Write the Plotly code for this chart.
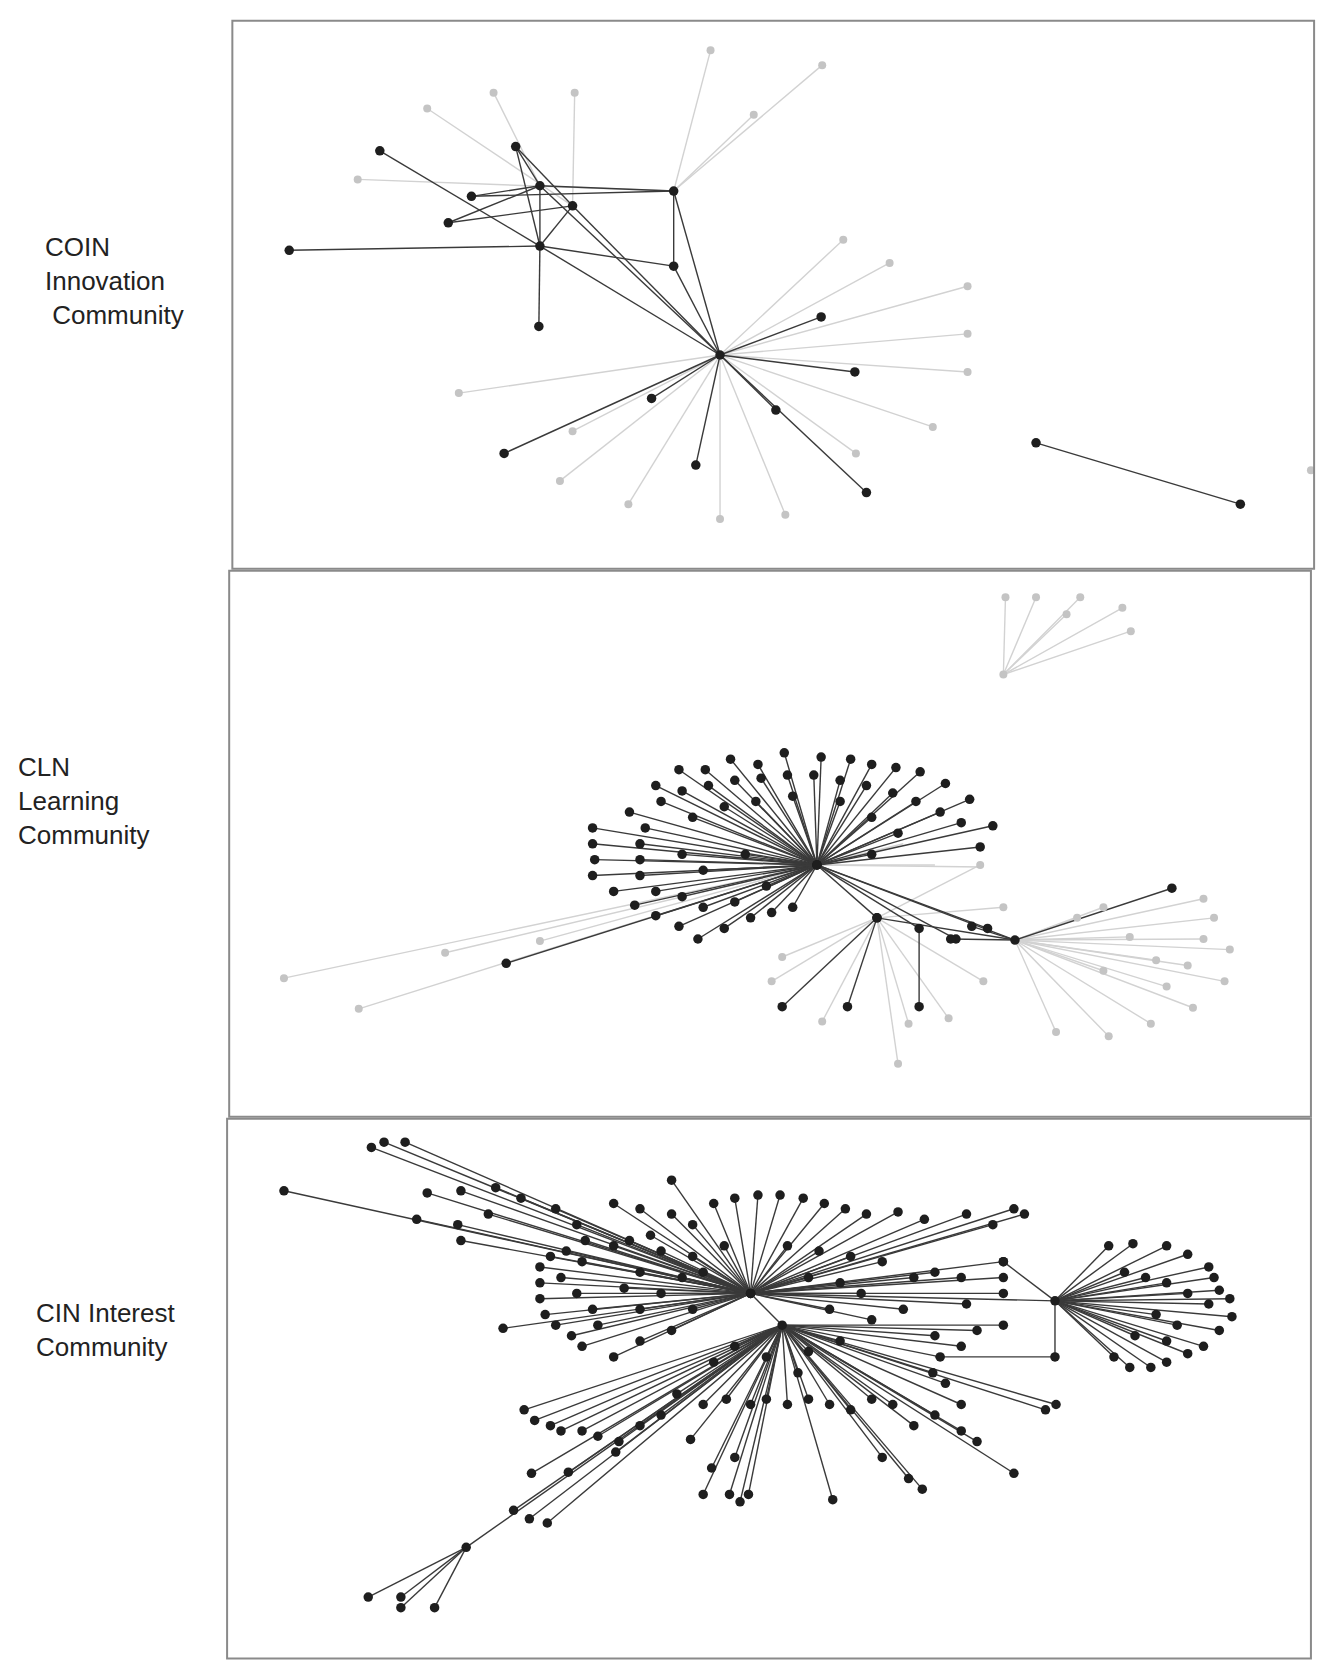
import plotly.graph_objects as go

# ---------- Panel 1: COIN ----------
p1_dark_edges = [((353,135),(505,225)),((482,131),(505,168)),((482,131),(505,225)),((482,131),(536,187)),
    ((440,178),(505,168)),((440,178),(632,173)),((418,203),(505,168)),((418,203),(536,187)),
    ((505,168),(632,173)),((505,168),(505,225)),((536,187),(505,225)),((536,187),(676,328)),
    ((505,225),(267,229)),((505,225),(504,301)),((505,225),(632,244)),((505,225),(676,328)),
    ((632,173),(632,244)),((632,173),(676,328)),((632,244),(676,328)),((505,168),(676,328)),
    ((976,411),(1170,469))]
p1_hub = (676,328)
p1_hub_dark = [(772,292),(804,344),(611,369),(729,380),(471,421),(653,432),(815,458)]
p1_hub_light = [(793,219),(837,241),(911,263),(911,308),(911,344),(878,396),(805,421),(738,479),
    (676,483),(589,469),(524,447),(536,400),(428,364)]
p1_light_edges = [((632,173),(667,40)),((632,173),(773,54)),((632,173),(708,101)),
    ((398,95),(536,187)),((461,80),(505,168)),((538,80),(536,187)),((332,162),(632,173))]
p1_dark_nodes = [(353,135),(482,131),(505,168),(440,178),(536,187),(418,203),(632,173),(505,225),
    (267,229),(632,244),(504,301),(676,328),(976,411),(1170,469)]
p1_light_nodes = [(667,40),(773,54),(708,101),(398,95),(461,80),(538,80),(332,162),(1237,437)]

# ---------- Panel 2: CLN ----------
p2_hub1 = (768,810); p2_hub2 = (956,881); p2_hub3 = (825,860)
p2_hub1_dark = [(637,720),(662,720),(686,710),(712,715),(737,704),(772,708),(800,710),(820,715),(843,718),
    (866,722),(890,733),(913,748),(935,773),(923,793),(615,735),(640,740),(665,735),(690,730),(715,728),
    (740,725),(765,725),(790,730),(815,735),(840,742),(862,750),(885,760),(905,770),(555,775),(555,790),
    (557,805),(555,820),(575,835),(595,848),(615,858),(637,868),(655,880),(680,870),(705,860),(725,855),
    (745,850),(590,760),(605,775),(600,790),(600,805),(600,820),(615,835),(640,840),(660,850),(690,845),
    (620,750),(650,765),(680,755),(710,750),(745,745),(790,750),(820,765),(845,780),(820,800),(640,800),
    (660,815),(700,800),(720,830),(473,903),(865,870),(900,880),(930,870)]
p2_hub1_light = [(262,917),(333,946),(415,893),(505,882),(850,790),(880,810),(925,812)]
p2_hub2_dark = [(1105,832),(768,810),(825,860),(895,880),(915,868)]
p2_hub2_light = [(1135,842),(1145,860),(1160,890),(1155,920),(1125,945),(1085,960),(1045,972),(995,968),
    (1065,878),(1090,900),(1100,925),(1040,910),(1015,860),(1040,850),(1135,880),(1120,905)]
p2_hub3_dark = [(735,944),(797,944),(768,810)]
p2_hub3_light = [(735,897),(725,920),(773,958),(845,998),(855,960),(893,955),(926,920),(945,850),(923,810)]
p2_side = [((865,870),(865,944))]
p2_hub4 = (945,630)
p2_hub4_light = [(947,557),(976,557),(1018,557),(1058,567),(1066,589),(1005,573)]

# ---------- Panel 3: CIN ----------
p3_hub1 = (705,1215); p3_hub2 = (735,1245); p3_hub3 = (994,1222); p3_hub4 = (435,1455)
p3_hub1_dark = [(262,1118),(345,1077),(357,1072),(377,1072),(398,1120),(388,1145),(430,1118),(463,1115),
    (487,1125),(430,1165),(427,1150),(456,1140),(520,1135),(540,1150),(548,1165),(575,1170),(590,1165),
    (610,1160),(630,1108),(575,1130),(600,1135),(630,1140),(650,1150),(670,1130),(690,1125),(712,1122),
    (733,1122),(755,1125),(775,1130),(795,1135),(815,1140),(845,1138),(870,1145),(910,1140),(935,1150),
    (955,1135),(965,1140),(505,1190),(505,1205),(505,1220),(510,1235),(520,1245),(535,1255),(545,1265),
    (515,1180),(530,1175),(545,1185),(525,1200),(540,1215),(555,1230),(560,1245),(470,1248),
    (945,1185),(945,1200),(945,1215),(910,1225),(905,1200),(880,1195),(860,1200),(620,1175),(650,1180),
    (680,1170),(740,1170),(770,1175),(800,1180),(830,1185),(600,1195),(585,1210),(600,1230),(630,1250),
    (850,1230),(820,1240),(600,1260),(575,1275),(640,1200),(660,1195),(760,1200),(790,1205),(650,1230),
    (780,1230),(620,1215),(810,1215)]
p3_hub2_dark = [(490,1325),(500,1335),(515,1340),(525,1345),(545,1345),(560,1350),(580,1355),(600,1340),
    (620,1330),(648,1353),(668,1380),(690,1370),(705,1320),(720,1315),(740,1320),(760,1315),(780,1320),
    (800,1325),(820,1315),(840,1320),(860,1340),(880,1330),(905,1345),(920,1355),(955,1385),(830,1370),
    (855,1390),(868,1400),(783,1410),(660,1405),(685,1405),(695,1412),(703,1405),(635,1310),(660,1320),
    (682,1315),(905,1320),(890,1300),(878,1290),(945,1245),(920,1250),(905,1265),(885,1275),(880,1255),
    (985,1325),(995,1320),(577,1365),(532,1384),(497,1385),(480,1420),(495,1428),(512,1432),(435,1455),
    (705,1215),(690,1265),(720,1275),(760,1270),(790,1260),(670,1280),(750,1290)]
p3_hub3_dark = [(1045,1170),(1068,1168),(1100,1170),(1120,1178),(1140,1190),(1145,1200),(1150,1212),
    (1160,1220),(1162,1237),(1150,1250),(1135,1265),(1120,1272),(1100,1280),(1085,1285),(1065,1285),
    (1050,1275),(1060,1195),(1080,1200),(1100,1205),(1120,1215),(1140,1225),(1090,1235),(1110,1245),
    (1070,1255),(1100,1260),(705,1215),(945,1185),(994,1275)]
p3_hub4_dark = [(342,1502),(373,1502),(373,1512),(405,1512)]
p3_extra = [((880,1275),(994,1275))]

DARK = "#1e1e1e"; LIGHT = "#c4c4c4"; EDGE_D = "#3a3a3a"; EDGE_L = "#d2d2d2"

light_edges, dark_edges = [], []
def star(hub, leaves, lst):
    for l in leaves: lst.append((hub, l))

light_edges += p1_light_edges
star(p1_hub, p1_hub_light, light_edges)
star(p2_hub1, p2_hub1_light, light_edges)
star(p2_hub2, p2_hub2_light, light_edges)
star(p2_hub3, p2_hub3_light, light_edges)
star(p2_hub4, p2_hub4_light, light_edges)
dark_edges += p1_dark_edges
star(p1_hub, p1_hub_dark, dark_edges)
star(p2_hub1, p2_hub1_dark, dark_edges)
star(p2_hub2, p2_hub2_dark, dark_edges)
star(p2_hub3, p2_hub3_dark, dark_edges)
dark_edges += p2_side
star(p3_hub1, p3_hub1_dark, dark_edges)
star(p3_hub2, p3_hub2_dark, dark_edges)
star(p3_hub3, p3_hub3_dark, dark_edges)
star(p3_hub4, p3_hub4_dark, dark_edges)
dark_edges += p3_extra

def edge_xy(edges):
    xs, ys = [], []
    for a, b in edges:
        xs += [a[0], b[0], None]; ys += [a[1], b[1], None]
    return xs, ys

light_nodes = (p1_light_nodes + p1_hub_light + p2_hub1_light[:4] + p2_hub2_light + p2_hub3_light
               + p2_hub4_light + [p2_hub4])
dark_nodes = (p1_dark_nodes + p1_hub_dark + [p2_hub1, p2_hub2, p2_hub3] + p2_hub1_dark + p2_hub2_dark
              + p2_hub3_dark + [(865,944)] + [p3_hub1, p3_hub2, p3_hub3] + p3_hub1_dark + p3_hub2_dark
              + p3_hub3_dark + p3_hub4_dark)

fig = go.Figure()
x, y = edge_xy(light_edges)
fig.add_trace(go.Scatter(x=x, y=y, mode="lines", line=dict(color=EDGE_L, width=1.4), hoverinfo="skip"))
x, y = edge_xy(dark_edges)
fig.add_trace(go.Scatter(x=x, y=y, mode="lines", line=dict(color=EDGE_D, width=1.4), hoverinfo="skip"))
fig.add_trace(go.Scatter(x=[p[0] for p in light_nodes], y=[p[1] for p in light_nodes], mode="markers",
                         marker=dict(color=LIGHT, size=8)))
fig.add_trace(go.Scatter(x=[p[0] for p in dark_nodes], y=[p[1] for p in dark_nodes], mode="markers",
                         marker=dict(color=DARK, size=9.5)))

panels = [(213, 12, 1240, 530), (210, 532, 1237, 1048), (208, 1050, 1237, 1560)]
for x0, y0, x1, y1 in panels:
    fig.add_shape(type="rect", x0=x0, y0=y0, x1=x1, y1=y1, line=dict(color="#8a8a8a", width=2))

labels = [("COIN<br>Innovation<br> Community", 33, 258), ("CLN<br>Learning<br>Community", 8, 750),
          ("CIN Interest<br>Community", 25, 1250)]
for t, lx, ly in labels:
    fig.add_annotation(x=lx, y=ly, text=t, showarrow=False, xanchor="left", yanchor="middle", align="left",
                       font=dict(family="Liberation Sans, Arial", size=26, color="#222"))

fig.update_layout(width=1324, height=1661, margin=dict(l=0, r=0, t=0, b=0), showlegend=False,
                  plot_bgcolor="white", paper_bgcolor="white",
                  xaxis=dict(range=[0, 1257], visible=False, fixedrange=True),
                  yaxis=dict(range=[1570, 0], visible=False, fixedrange=True))
fig.write_html("out.html")
